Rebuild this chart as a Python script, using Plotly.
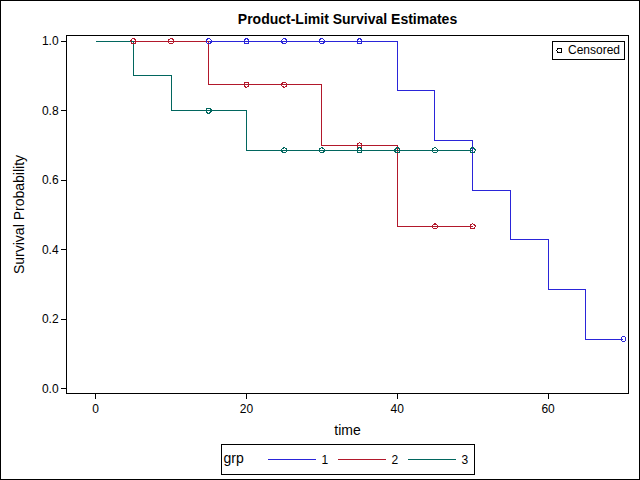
import plotly.graph_objects as go

# step curves: event times and survival after each event
grp1_time = [0, 40, 45, 50, 55, 60, 65, 70]
grp1_surv = [1.0, 0.857, 0.714, 0.571, 0.429, 0.286, 0.143, 0.143]
grp2_time = [0, 15, 30, 40, 50]
grp2_surv = [1.0, 0.875, 0.70, 0.467, 0.467]
grp3_time = [0, 5, 10, 20, 50]
grp3_surv = [1.0, 0.9, 0.8, 0.686, 0.686]

# censored observations
cens1_time = [15, 20, 25, 30, 35, 70]
cens1_surv = [1.0, 1.0, 1.0, 1.0, 1.0, 0.143]
cens2_time = [5, 10, 20, 25, 35, 45, 50]
cens2_surv = [1.0, 1.0, 0.875, 0.875, 0.70, 0.467, 0.467]
cens3_time = [15, 25, 30, 35, 40, 45, 50]
cens3_surv = [0.8, 0.686, 0.686, 0.686, 0.686, 0.686, 0.686]

groups = ["1", "2", "3"]
colors = ["#2A25D9", "#B2182B", "#01665E"]

FONT = "Liberation Sans, Arial, sans-serif"

fig = go.Figure()

curves = [(grp1_time, grp1_surv), (grp2_time, grp2_surv), (grp3_time, grp3_surv)]
for (t, s), g, c in zip(curves, groups, colors):
    fig.add_trace(go.Scatter(x=t, y=s, mode="lines", name=g,
                             line=dict(color=c, width=1, shape="hv")))

cens = [(cens1_time, cens1_surv), (cens2_time, cens2_surv), (cens3_time, cens3_surv)]
for (t, s), c in zip(cens, colors):
    fig.add_trace(go.Scatter(x=t, y=s, mode="markers", showlegend=False,
                             marker=dict(symbol="circle-open", size=5, color=c,
                                         line=dict(width=1, color=c))))

# plot area in pixels: l=67, r=628, t=36, b=393
L, R, T, B = 67, 628, 36, 393
W, H = R - L, B - T


def px(x):
    return (x - L) / W


def py(y):
    return (B - y) / H


shapes = [
    # outer frame around the whole graph
    dict(type="rect", xref="paper", yref="paper",
         x0=px(0.5), x1=px(639.5), y0=py(479.5), y1=py(0.5),
         line=dict(color="black", width=1), layer="below"),
    # "Censored" inset legend box and marker
    dict(type="rect", xref="paper", yref="paper",
         x0=px(552.5), x1=px(624.5), y0=py(59.5), y1=py(41.5),
         line=dict(color="black", width=1), fillcolor="white"),
    dict(type="circle", xref="paper", yref="paper",
         x0=px(557), x1=px(562), y0=py(53), y1=py(48),
         line=dict(color="black", width=1)),
]

fig.update_layout(
    width=640, height=480,
    margin=dict(l=L, r=640 - R, t=T, b=480 - B, autoexpand=False),
    paper_bgcolor="white", plot_bgcolor="white",
    font=dict(family=FONT, size=12, color="black"),
    title=dict(text="<b>Product-Limit Survival Estimates</b>", x=0.5, xref="paper",
               xanchor="center", y=1 - 19 / 480, yanchor="middle",
               font=dict(size=14, family=FONT)),
    xaxis=dict(range=[-3.8, 70.6], tickvals=[0, 20, 40, 60], ticks="outside",
               ticklen=5, tickcolor="black", showgrid=False, zeroline=False,
               showline=True, linecolor="black", linewidth=1, mirror=True,
               automargin=False, title=dict(text="time", standoff=9)),
    yaxis=dict(range=[-0.0124, 1.015], tickvals=[0, 0.2, 0.4, 0.6, 0.8, 1.0],
               tickformat=".1f", ticks="outside", ticklen=5, tickcolor="black",
               showgrid=False, zeroline=False, showline=True, linecolor="black",
               linewidth=1, mirror=True, automargin=False,
               title=dict(text="Survival Probability", standoff=14)),
    legend=dict(orientation="h", x=0.5, xanchor="center", y=py(459), yanchor="middle",
                bordercolor="black", borderwidth=1, bgcolor="white",
                title=dict(text="grp   ", side="left"),
                font=dict(size=12), itemwidth=48, tracegroupgap=0),
    annotations=[dict(text="Censored", xref="paper", yref="paper",
                      x=px(566), y=py(50.5), xanchor="left", yanchor="middle",
                      showarrow=False, font=dict(size=12, family=FONT))],
    shapes=shapes,
)

# SAS draws un-antialiased 1px lines; mimic that and drop the page margin
js = ("document.body.style.margin='0';"
      "document.querySelectorAll('.main-svg').forEach(function(s){"
      "s.style.shapeRendering='crispEdges';});")

fig.write_html("out.html", config={"displayModeBar": False}, post_script=js)
